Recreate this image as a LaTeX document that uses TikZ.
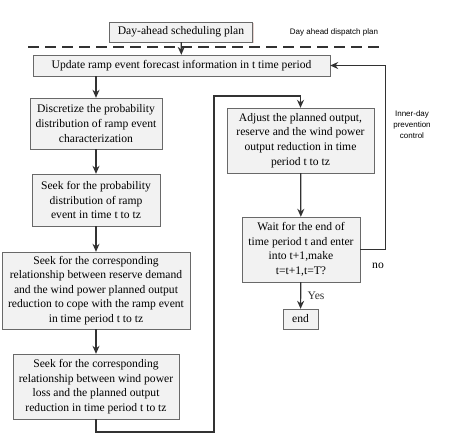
\documentclass[tikz,border=0pt]{standalone}
\usepackage{fontspec}
\setmainfont{Liberation Serif}
\newfontfamily\notefont{Liberation Sans}
\usepackage{tikz}
\usetikzlibrary{arrows.meta,positioning,shadows}
\definecolor{boxline}{RGB}{105,105,105}
\definecolor{boxfill}{RGB}{242,242,242}
\definecolor{flowline}{RGB}{50,50,50}
\definecolor{boxshade}{RGB}{225,200,195}

\begin{document}
\begin{tikzpicture}[x=1pt,y=-1pt,>={Stealth[length=8pt,width=7pt]},
  box/.style={draw=boxline,fill=boxfill,align=center,inner sep=1pt,
    font=\fontsize{11.6}{14.6}\selectfont,
    drop shadow={fill=boxshade,shadow xshift=1pt,shadow yshift=-1pt,opacity=0.8}},
  flow/.style={->,flowline,line width=1.2pt},
  note/.style={font=\notefont\fontsize{8}{11}\selectfont,align=center}]
\useasboundingbox (0,0) rectangle (474,442);
% day-ahead part
\node[box,minimum width=143pt,minimum height=20pt] (plan) at (181,32) {Day-ahead scheduling plan};
\node[note] (dispatch) at (334,32) {Day ahead dispatch plan};
\coordinate (dashl) at (28,47);
\coordinate (dashr) at (381,47);
\draw[flowline,line width=1.2pt,dash pattern=on 11pt off 6pt] (dashl) -- (dashr);
\node[box,minimum width=297pt,minimum height=21pt] (update) at (181.5,65.5) {Update ramp event forecast information in t time period};
% left column
\node[box,minimum width=132pt,minimum height=51pt] (disc) at (96,123.5)
  {Discretize the probability\\distribution of ramp event\\characterization};
\node[box,minimum width=128pt,minimum height=52pt] (seekA) at (96,200)
  {Seek for the probability\\distribution of ramp\\event in time t to tz};
\node[box,minimum width=188pt,minimum height=77pt] (seekB) at (96,290.5)
  {Seek for the corresponding\\relationship between reserve demand\\and the wind power planned output\\reduction to cope with the ramp event\\in time period t to tz};
\node[box,minimum width=166pt,minimum height=65pt] (seekC) at (96,386.5)
  {Seek for the corresponding\\relationship between wind power\\loss and the planned output\\reduction in time period t to tz};
% right column
\node[box,minimum width=147pt,minimum height=65pt] (adjust) at (300.5,140.5)
  {Adjust the planned output,\\reserve and the wind power\\output reduction in time\\period t to tz};
\node[box,minimum width=118pt,minimum height=65pt] (wait) at (301,249.5)
  {Wait for the end of\\time period t and enter\\into t+1,make\\t=t+1,t=T?};
\node[box,minimum width=35pt,minimum height=20pt] (end) at (300.5,319) {end};
\node[note] (inner) at (412,125) {Inner-day\\prevention\\control};
\node[font=\fontsize{11.6}{13}\selectfont] (no) at (378,266) {no};

\coordinate (loopb) at (214,432);
\coordinate (loopt) at (214,96);
% connectors
\draw[flow] (plan) -- (update);
\draw[flow] (disc.north |- update.south) -- (disc);
\draw[flow] (disc) -- (seekA);
\draw[flow] (seekA) -- (seekB);
\draw[flow] (seekB) -- (seekC);
\draw[flow] (seekC.south) |- (loopb) -- (loopt) -| (adjust.north);
\draw[flow] (adjust) -- (wait);
\draw[flow] (wait) -- node[right=3pt,font=\fontsize{11.6}{13}\selectfont] {Yes} (end);
\draw[flow] (wait.east) -- ++(25,0) |- (update.east);
\end{tikzpicture}
\end{document}
